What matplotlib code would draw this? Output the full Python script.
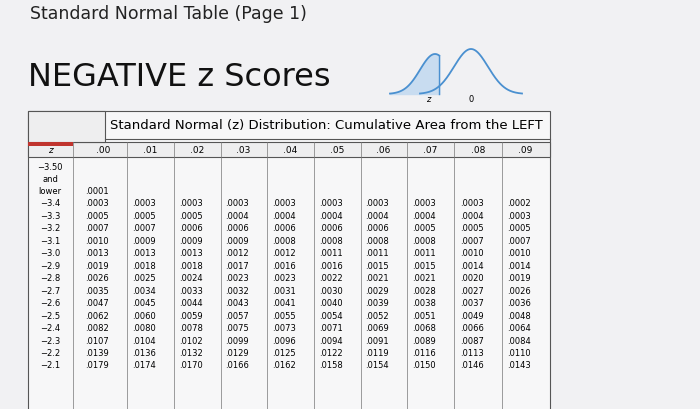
import matplotlib.pyplot as plt
import numpy as np

cols = [".00", ".01", ".02", ".03", ".04", ".05", ".06", ".07", ".08", ".09"]
zrows = ["−3.4", "−3.3", "−3.2", "−3.1", "−3.0", "−2.9", "−2.8", "−2.7", "−2.6", "−2.5", "−2.4", "−2.3", "−2.2", "−2.1"]
vals = [
 [".0003",".0003",".0003",".0003",".0003",".0003",".0003",".0003",".0003",".0002"],
 [".0005",".0005",".0005",".0004",".0004",".0004",".0004",".0004",".0004",".0003"],
 [".0007",".0007",".0006",".0006",".0006",".0006",".0006",".0005",".0005",".0005"],
 [".0010",".0009",".0009",".0009",".0008",".0008",".0008",".0008",".0007",".0007"],
 [".0013",".0013",".0013",".0012",".0012",".0011",".0011",".0011",".0010",".0010"],
 [".0019",".0018",".0018",".0017",".0016",".0016",".0015",".0015",".0014",".0014"],
 [".0026",".0025",".0024",".0023",".0023",".0022",".0021",".0021",".0020",".0019"],
 [".0035",".0034",".0033",".0032",".0031",".0030",".0029",".0028",".0027",".0026"],
 [".0047",".0045",".0044",".0043",".0041",".0040",".0039",".0038",".0037",".0036"],
 [".0062",".0060",".0059",".0057",".0055",".0054",".0052",".0051",".0049",".0048"],
 [".0082",".0080",".0078",".0075",".0073",".0071",".0069",".0068",".0066",".0064"],
 [".0107",".0104",".0102",".0099",".0096",".0094",".0091",".0089",".0087",".0084"],
 [".0139",".0136",".0132",".0129",".0125",".0122",".0119",".0116",".0113",".0110"],
 [".0179",".0174",".0170",".0166",".0162",".0158",".0154",".0150",".0146",".0143"],
]
lower_label = ["−3.50", "and", "lower"]
lower_val = ".0001"

fig = plt.figure(figsize=(7, 4.1), dpi=100)
fig.patch.set_facecolor("#f1f1f3")
ax = fig.add_axes([0, 0, 1, 1])
ax.set_xlim(0, 700); ax.set_ylim(410, 0); ax.axis("off")

ax.text(30, 14, "Standard Normal Table (Page 1)", fontsize=12.5, va="center", color="#222")
ax.text(28, 78, "NEGATIVE z Scores", fontsize=23, va="center", color="#111", fontweight="medium")

x = np.linspace(-3, 3, 200)
y = np.exp(-x**2 / 2)
lx = 390 + (x + 3) * 15; ly = 95 - y * 40
m = x < 0.3
ax.fill_between(lx[m], ly[m], 95, color="#c8dcf0")
ax.plot(lx[m], ly[m], color="#4a90d0", lw=1.3)
ax.plot(lx[m][-1:].repeat(2), [ly[m][-1], 95], color="#4a90d0", lw=1)
rx = 420 + (x + 3) * 17; ry = 95 - y * 45
ax.plot(rx, ry, color="#4a90d0", lw=1.3)
ax.text(428, 102, "z", fontsize=6, style="italic", ha="center")
ax.text(471, 102, "0", fontsize=6, ha="center")

ax.add_patch(plt.Rectangle((28, 112), 522, 300, fill=True, fc="#f7f7f8", ec="#555", lw=0.8))
ax.text(110, 126, "Standard Normal (z) Distribution: Cumulative Area from the LEFT", fontsize=9.5, va="center")
ax.plot([105, 550], [140, 140], color="#555", lw=0.8)
ax.add_patch(plt.Rectangle((28, 143), 522, 15, fc="#eeeeef", ec="#555", lw=0.8))
ax.add_patch(plt.Rectangle((28, 112), 77, 31, fc="#eeeeef", ec="#555", lw=0.8))
ax.add_patch(plt.Rectangle((28, 143), 45, 4, fc="#c0342e", ec="none"))
ax.text(50, 151, "z", fontsize=6.5, style="italic", ha="center", va="center")

colx = [103, 150, 197, 243, 290, 337, 383, 430, 478, 525]
for c, cx in zip(cols, colx):
    ax.text(cx, 151, c, fontsize=6.5, ha="center", va="center")
for xx in colx[:-1]:
    ax.plot([xx + 24, xx + 24], [143, 410], color="#777", lw=0.5)
ax.plot([73, 73], [143, 410], color="#777", lw=0.5)

for i, t in enumerate(lower_label):
    ax.text(50, 168 + i * 12, t, fontsize=6, ha="center", va="center")
ax.text(85, 192, lower_val, fontsize=6, ha="left", va="center")

for r, (z, row) in enumerate(zip(zrows, vals)):
    yy = 204 + r * 12.46
    ax.text(50, yy, z, fontsize=6, ha="center", va="center")
    for cx, v in zip(colx, row):
        ax.text(cx - 18, yy, v, fontsize=6, ha="left", va="center")

fig.savefig("out.png", dpi=100, facecolor=fig.get_facecolor())
